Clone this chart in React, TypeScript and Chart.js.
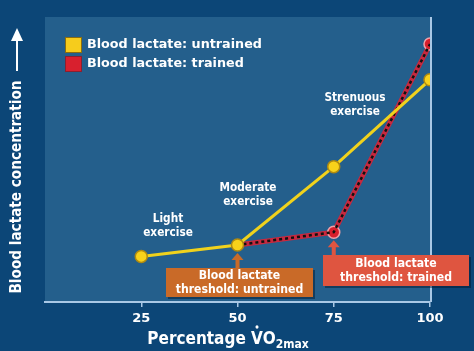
import React, { useEffect, useRef } from "react";
import { Chart, registerables } from "chart.js";

Chart.register(...registerables);

const xTicks = [25, 50, 75, 100];
const untrainedX = [25, 50, 75, 100];
const untrainedY = [16, 20, 47.5, 78];
const trainedX = [50, 75, 100];
const trainedY = [20, 24.5, 90.5];
const trainedRadius = [0, 6, 6];
const legendLabels = ["Blood lactate: untrained", "Blood lactate: trained"];
const yTitle = "Blood lactate concentration";
const xTitleMain = "Percentage VO";
const xTitleSub = "2max";

const FONT = "'DejaVu Sans', Verdana, sans-serif";

// draw text centred at (x,y), squeezed horizontally by factor k
function sText(ctx: any, t: string, x: number, y: number, k: number) {
  ctx.save();
  ctx.translate(x, y);
  ctx.scale(k, 1);
  ctx.fillText(t, 0, 0);
  ctx.restore();
}

const decorPlugin = {
  id: "decor",
  beforeDraw(chart: any) {
    const { ctx, chartArea: a, width, height } = chart;
    ctx.save();
    ctx.fillStyle = "#0c4677";
    ctx.fillRect(0, 0, width, height);
    ctx.fillStyle = "#245f8c";
    ctx.fillRect(a.left, a.top, a.right - a.left + 2, a.bottom - a.top);
    ctx.strokeStyle = "#a9c8e6";
    ctx.lineWidth = 2;
    ctx.beginPath();
    ctx.moveTo(a.right + 1, a.top);
    ctx.lineTo(a.right + 1, a.bottom);
    ctx.stroke();
    ctx.restore();
  },
  afterDraw(chart: any) {
    const { ctx, scales } = chart;
    const xs = scales.x;
    const ys = scales.y;
    ctx.save();
    ctx.textAlign = "center";
    ctx.textBaseline = "middle";

    // legend
    const legendColors = [
      ["#f6cc1c", "#8a6d10"],
      ["#d8202e", "#8a2030"],
    ];
    legendLabels.forEach((lab, i) => {
      const y = 45 + i * 19;
      ctx.fillStyle = legendColors[i][1];
      ctx.fillRect(65, y - 8, 17, 16);
      ctx.fillStyle = legendColors[i][0];
      ctx.fillRect(66, y - 7, 15, 14);
      ctx.fillStyle = "#ffffff";
      ctx.font = `bold 13px ${FONT}`;
      ctx.textAlign = "left";
      sText(ctx, lab, 87, y, 0.98);
    });
    ctx.textAlign = "center";

    // exercise labels
    ctx.fillStyle = "#ffffff";
    ctx.font = `bold 12px ${FONT}`;
    const notes: [string, string, number, number][] = [
      ["Light", "exercise", 168, 219],
      ["Moderate", "exercise", 248, 188],
      ["Strenuous", "exercise", 355, 98],
    ];
    notes.forEach(([l1, l2, x, y]) => {
      sText(ctx, l1, x, y, 0.88);
      sText(ctx, l2, x, y + 14, 0.88);
    });

    // threshold boxes
    const boxes: [string, string, number, number, number, number, string, number, number][] = [
      ["Blood lactate", "threshold: untrained", 166, 268, 147, 29, "#c96a28", 50, 20],
      ["Blood lactate", "threshold: trained", 323, 255, 146, 31, "#df5540", 75, 24.5],
    ];
    boxes.forEach(([l1, l2, x, y, w, h, col, vx, vy]) => {
      ctx.fillStyle = "rgba(0,20,40,0.45)";
      ctx.fillRect(x + 2, y + 2, w, h);
      ctx.fillStyle = col;
      ctx.fillRect(x, y, w, h);
      ctx.fillStyle = "#ffffff";
      ctx.font = `bold 12px ${FONT}`;
      sText(ctx, l1, x + w / 2, y + h / 2 - 7, 0.91);
      sText(ctx, l2, x + w / 2, y + h / 2 + 7, 0.91);
      const px = xs.getPixelForValue(vx);
      const py = ys.getPixelForValue(vy) + 8;
      ctx.fillStyle = col;
      ctx.fillRect(px - 2, py + 6, 4, y - py - 6);
      ctx.beginPath();
      ctx.moveTo(px - 6, py + 7);
      ctx.lineTo(px + 6, py + 7);
      ctx.lineTo(px, py);
      ctx.closePath();
      ctx.fill();
    });

    // y title with arrow
    ctx.save();
    ctx.translate(17, 187);
    ctx.rotate(-Math.PI / 2);
    ctx.fillStyle = "#ffffff";
    ctx.font = `bold 16px ${FONT}`;
    const wy = ctx.measureText(yTitle).width;
    ctx.scale(213 / wy, 1);
    ctx.fillText(yTitle, 0, 0);
    ctx.restore();
    ctx.strokeStyle = "#ffffff";
    ctx.fillStyle = "#ffffff";
    ctx.lineWidth = 2;
    ctx.beginPath();
    ctx.moveTo(17, 71);
    ctx.lineTo(17, 36);
    ctx.stroke();
    ctx.beginPath();
    ctx.moveTo(11, 41);
    ctx.lineTo(23, 41);
    ctx.lineTo(17, 28);
    ctx.closePath();
    ctx.fill();

    // x title
    const k = 0.9;
    ctx.font = `bold 17px ${FONT}`;
    const wMain = ctx.measureText(xTitleMain).width;
    const wBeforeV = ctx.measureText("Percentage ").width;
    const wV = ctx.measureText("V").width;
    ctx.font = `bold 12px ${FONT}`;
    const wSub = ctx.measureText(xTitleSub).width;
    const total = (wMain + wSub) * k;
    const sx = 228 - total / 2;
    ctx.save();
    ctx.translate(sx, 0);
    ctx.scale(k, 1);
    ctx.textAlign = "left";
    ctx.textBaseline = "alphabetic";
    ctx.font = `bold 17px ${FONT}`;
    ctx.fillText(xTitleMain, 0, 344);
    ctx.font = `bold 12px ${FONT}`;
    ctx.fillText(xTitleSub, wMain, 348);
    ctx.beginPath();
    ctx.arc(wBeforeV + wV / 2, 327, 1.7, 0, Math.PI * 2);
    ctx.fill();
    ctx.restore();

    ctx.restore();
  },
};

export default function App() {
  const ref = useRef<HTMLCanvasElement>(null);
  useEffect(() => {
    document.body.style.margin = "0";
    const canvas = ref.current!;
    const chart = new Chart(canvas, {
      type: "line",
      data: {
        datasets: [
          {
            label: legendLabels[0],
            data: untrainedX.map((x, i) => ({ x, y: untrainedY[i] })),
            borderColor: "#f0d21c",
            borderWidth: 3,
            pointRadius: 6,
            pointBackgroundColor: "#f8d21a",
            pointBorderColor: "#b08a10",
            pointBorderWidth: 1.5,
            order: 1,
          },
          {
            label: legendLabels[1],
            data: trainedX.map((x, i) => ({ x, y: trainedY[i] })),
            borderColor: "#c8283e",
            borderWidth: 5,
            pointRadius: trainedRadius,
            pointBackgroundColor: "#d81e2c",
            pointBorderColor: "#f0a0a8",
            pointBorderWidth: 1.5,
            order: 3,
          },
          {
            label: "dash",
            data: trainedX.map((x, i) => ({ x, y: trainedY[i] })),
            borderColor: "#111111",
            borderWidth: 2.5,
            borderDash: [3, 3],
            pointRadius: 0,
            order: 2,
          },
        ],
      },
      options: {
        responsive: false,
        animation: false,
        events: [],
        layout: { padding: { left: 45, right: 44, top: 17, bottom: 0 } },
        plugins: { legend: { display: false }, tooltip: { enabled: false } },
        scales: {
          x: {
            type: "linear",
            min: 0,
            max: 100,
            afterBuildTicks: (s: any) => {
              s.ticks = xTicks.map((v) => ({ value: v }));
            },
            afterFit: (s: any) => {
              s.height = 49;
            },
            grid: { drawOnChartArea: false, tickLength: 5, color: "#a9c8e6", lineWidth: 1.5 },
            border: { color: "#a9c8e6", width: 2 },
            ticks: {
              color: "#ffffff",
              font: { family: FONT, weight: "bold", size: 13 },
              padding: 4,
              maxRotation: 0,
              autoSkip: false,
            },
          },
          y: { type: "linear", min: 0, max: 100, display: false },
        },
      },
      plugins: [decorPlugin],
    } as any);
    return () => chart.destroy();
  }, []);
  return (
    <div style={{ width: 474, height: 351 }}>
      <canvas ref={ref} width={474} height={351} />
    </div>
  );
}
